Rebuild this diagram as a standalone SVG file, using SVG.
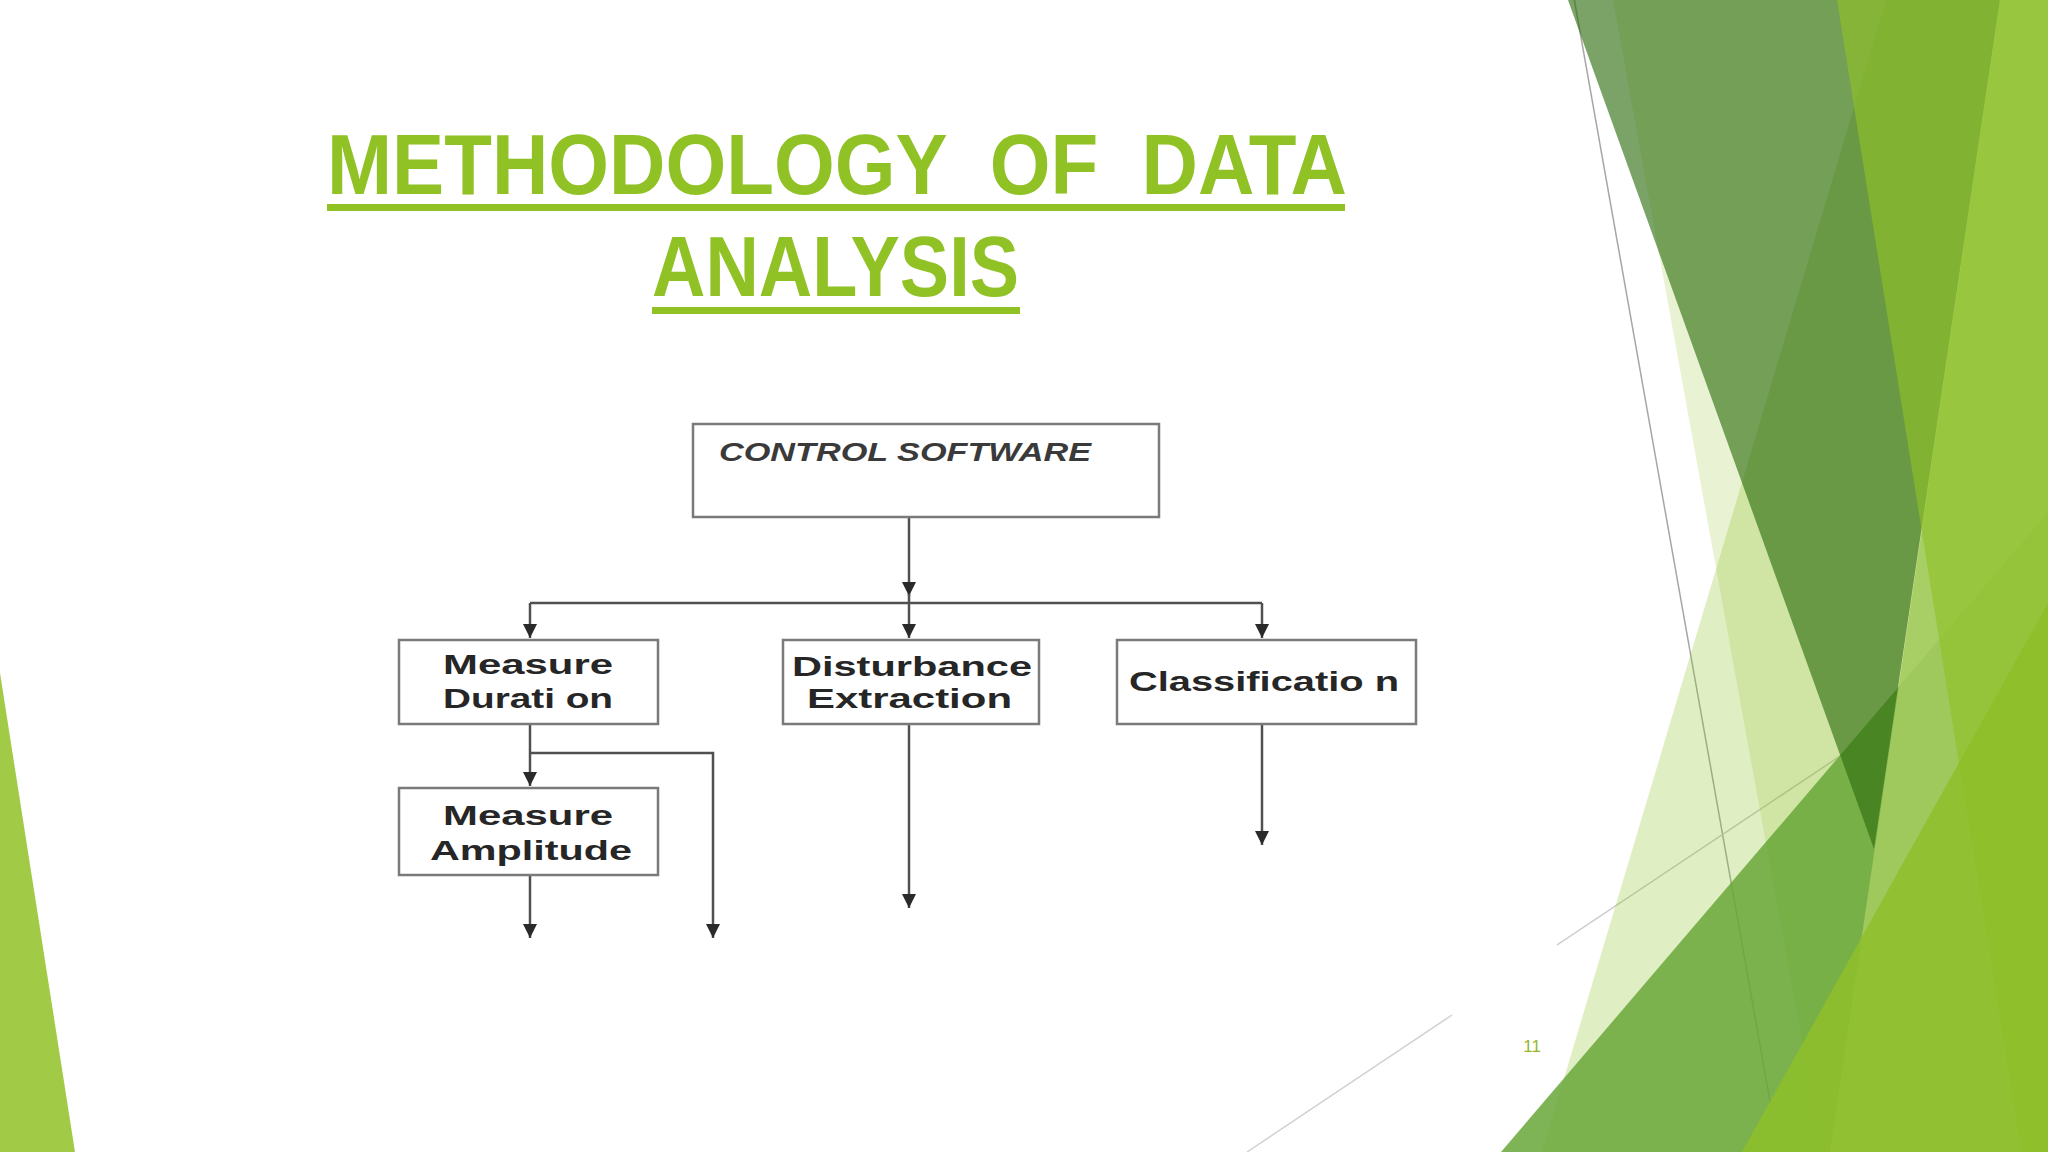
<svg xmlns="http://www.w3.org/2000/svg" width="2048" height="1152" viewBox="0 0 2048 1152">
<style>
.title{font-family:"Liberation Sans",Arial,sans-serif;font-weight:bold;font-size:86px;fill:#90C226}
.uline{fill:#90C226}
.box{fill:#ffffff;stroke:#7a7a7a;stroke-width:2.5}
.lbl{font-family:"Liberation Sans",Arial,sans-serif;font-weight:bold;font-size:28px;fill:#262626}
.ctl{font-family:"Liberation Sans",Arial,sans-serif;font-weight:bold;font-style:italic;font-size:26px;fill:#3a3a3a}
.conn{fill:none;stroke:#505050;stroke-width:2.5}
.acc{fill:#90C226}
.num{font-family:"Liberation Sans",Arial,sans-serif;font-size:17px;fill:#94B92A}
</style>
<defs>
<marker id="arr" markerUnits="userSpaceOnUse" markerWidth="15" markerHeight="14" refX="14" refY="7" orient="auto">
<path d="M0,0 L14,7 L0,14 Z" fill="#2a2a2a"/>
</marker>
</defs>
<rect x="0" y="0" width="2048" height="1152" fill="#ffffff"/>

<g id="decoration">
<line x1="1574" y1="-2" x2="1779" y2="1152" stroke="#a6a6a6" stroke-width="1.5"/>
<line x1="1247" y1="1152" x2="1452" y2="1015" stroke="#d0d0d0" stroke-width="1.5"/>
<line x1="1557" y1="945" x2="2047" y2="618" stroke="#c8c8c8" stroke-width="1.5"/>
<polygon class="acc" opacity="0.28" points="1886,0 2048,0 2048,1152 1542,1152"/>
<polygon class="acc" opacity="0.2" points="1613,0 2048,0 2048,1152 1822,1152"/>
<polygon fill="#68A738" opacity="0.85" points="2048,512 2048,1152 1501,1152"/>
<polygon fill="#2E6E0E" opacity="0.63" points="1568,0 2000,0 1874,849"/>
<polygon fill="#A3CB5F" opacity="0.9" points="2000,0 2048,0 2048,1152 1830,1152"/>
<polygon class="acc" opacity="0.62" points="1837,0 2048,0 2048,1152 2021,1152"/>
<polygon fill="#8EC02A" opacity="0.85" points="2048,603 2048,1152 1742,1152"/>
<polygon class="acc" opacity="0.85" points="0,673 75,1152 0,1152"/>
</g>

<g id="title">
<text class="title" x="327" y="194" textLength="1020" lengthAdjust="spacingAndGlyphs" xml:space="preserve">METHODOLOGY  OF  DATA</text>
<rect class="uline" x="327" y="204" width="1018" height="7"/>
<text class="title" x="652" y="296" textLength="367" lengthAdjust="spacingAndGlyphs">ANALYSIS</text>
<rect class="uline" x="652" y="307" width="368" height="7"/>
</g>

<g id="connectors">
<path class="conn" d="M909,517 V596" marker-end="url(#arr)"/>
<path class="conn" d="M909,594 V603"/>
<path class="conn" d="M530,603 H1262"/>
<path class="conn" d="M530,603 V638" marker-end="url(#arr)"/>
<path class="conn" d="M909,603 V638" marker-end="url(#arr)"/>
<path class="conn" d="M1262,603 V638" marker-end="url(#arr)"/>
<path class="conn" d="M530,724 V786" marker-end="url(#arr)"/>
<path class="conn" d="M530,753 H713 V938" marker-end="url(#arr)"/>
<path class="conn" d="M909,724 V908" marker-end="url(#arr)"/>
<path class="conn" d="M1262,724 V845" marker-end="url(#arr)"/>
<path class="conn" d="M530,875 V938" marker-end="url(#arr)"/>
</g>

<g id="control-software">
<rect class="box" x="693" y="424" width="466" height="93"/>
<text class="ctl" x="719" y="461" textLength="372" lengthAdjust="spacingAndGlyphs">CONTROL SOFTWARE</text>
</g>

<g id="measure-duration">
<rect class="box" x="399" y="640" width="259" height="84"/>
<text class="lbl" x="443" y="674" textLength="170" lengthAdjust="spacingAndGlyphs">Measure</text>
<text class="lbl" x="443" y="708" textLength="170" lengthAdjust="spacingAndGlyphs">Durati on</text>
</g>

<g id="disturbance-extraction">
<rect class="box" x="783" y="640" width="256" height="84"/>
<text class="lbl" x="792" y="676" textLength="240" lengthAdjust="spacingAndGlyphs">Disturbance</text>
<text class="lbl" x="807" y="708" textLength="205" lengthAdjust="spacingAndGlyphs">Extraction</text>
</g>

<g id="classification">
<rect class="box" x="1117" y="640" width="299" height="84"/>
<text class="lbl" x="1129" y="691" textLength="270" lengthAdjust="spacingAndGlyphs">Classificatio n</text>
</g>

<g id="measure-amplitude">
<rect class="box" x="399" y="788" width="259" height="87"/>
<text class="lbl" x="443" y="825" textLength="170" lengthAdjust="spacingAndGlyphs">Measure</text>
<text class="lbl" x="430" y="860" textLength="202" lengthAdjust="spacingAndGlyphs">Amplitude</text>
</g>

<g id="slide-number">
<text class="num" x="1541" y="1052" text-anchor="end">11</text>
</g>
</svg>
